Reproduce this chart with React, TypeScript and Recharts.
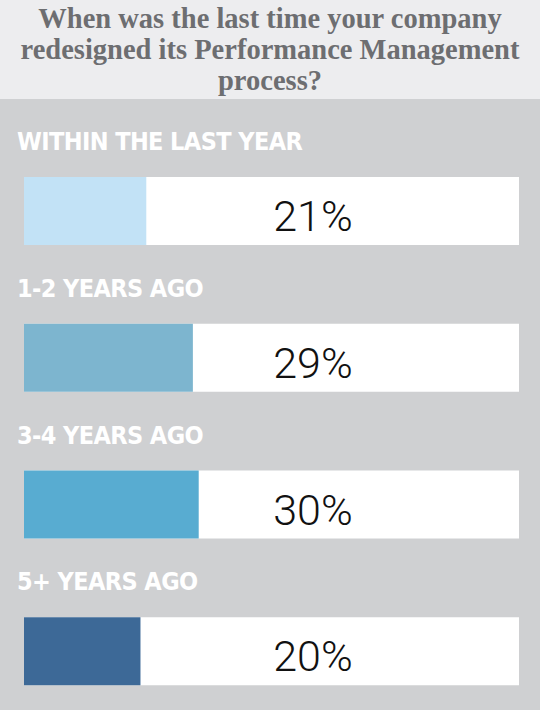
import React from 'react';
import { BarChart, Bar, XAxis, YAxis, Cell, LabelList } from 'recharts';

const categories = ['WITHIN THE LAST YEAR', '1-2 YEARS AGO', '3-4 YEARS AGO', '5+ YEARS AGO'];
const shares = [21, 29, 30, 20];

const COLORS = ['#c2e2f6', '#7db5cf', '#58acd1', '#3d6997'];

const data = categories.map((name, i) => ({ name, value: shares[i] }));

const CategoryLabel = (props: any) => {
	const { x, y, value } = props;
	return (
		<text
			x={x - 7}
			y={y - 27}
			fill='#ffffff'
			fontFamily='"DejaVu Sans Condensed", "DejaVu Sans", sans-serif'
			fontWeight={700}
			fontSize={25}
			letterSpacing={-0.6}
		>
			{value}
		</text>
	);
};

const ValueLabel = (props: any) => {
	const { y, height, value } = props;
	return (
		<text
			x={313}
			y={y + height / 2 + 20}
			fill='#111111'
			textAnchor='middle'
			fontFamily='Roboto, sans-serif'
			fontWeight={300}
			fontSize={43}
		>
			{`${value}%`}
		</text>
	);
};

export default function App() {
	return (
		<div
			style={{
				position: 'absolute',
				left: 0,
				top: 0,
				width: 540,
				height: 710,
				overflow: 'hidden',
				background: '#cfd0d2',
			}}
		>
			{/* Title block */}
			<div
				style={{
					height: 99,
					background: '#ededef',
					color: '#6d6e71',
					fontFamily: '"Liberation Serif", "DejaVu Serif", serif',
					fontWeight: 700,
					fontSize: 28.5,
					lineHeight: '31px',
					textAlign: 'center',
					paddingTop: 3,
					boxSizing: 'border-box',
					whiteSpace: 'nowrap',
				}}
			>
				When was the last time your company
				<br />
				redesigned its Performance Management
				<br />
				process?
			</div>
			<BarChart
				layout='vertical'
				width={540}
				height={626}
				data={data}
				margin={{ top: 39, right: 21, left: 24, bottom: 0 }}
			>
				<XAxis type='number' domain={[0, 85]} hide />
				<YAxis type='category' dataKey='name' hide />
				<Bar
					dataKey='value'
					barSize={68}
					background={{ fill: '#ffffff' }}
					isAnimationActive={false}
				>
					{data.map((_, i) => (
						<Cell key={`cell-${i}`} fill={COLORS[i % COLORS.length]} />
					))}
					<LabelList dataKey='name' content={CategoryLabel} />
					<LabelList dataKey='value' content={ValueLabel} />
				</Bar>
			</BarChart>
		</div>
	);
}
